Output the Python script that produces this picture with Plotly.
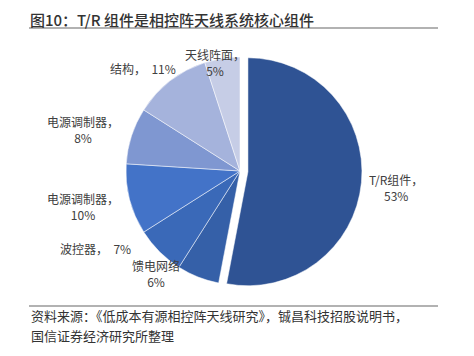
import plotly.graph_objects as go

# browser window 474x356; page body has an 8px margin, so the figure is 458x340
WIN_W, WIN_H, OFF = 474, 356, 8
W, H = WIN_W - 2 * OFF, WIN_H - 2 * OFF

categories = ["T/R组件", "馈电网络", "波控器", "电源调制器", "电源调制器", "结构", "天线阵面"]
values = [53, 6, 7, 10, 8, 11, 5]
colors = ["#2F5394", "#3560A8", "#3A69B8", "#4373C8", "#7F97D1", "#A5B3DC", "#C6CDE6"]
pulls = [0.07, 0, 0, 0, 0, 0, 0]
label_texts = ["T/R组件，<br>53%", "馈电网络<br>6%", "波控器，  7%", "电源调制器，<br>10%",
               "电源调制器，<br>8%", "结构，  11%", "天线阵面，<br>5%"]
# label centre positions in window pixels (x, y from top)
label_pos = [(396, 187), (156, 273), (95, 248), (83, 206), (83, 129), (143, 68), (215, 62)]

title = "图10：T/R 组件是相控阵天线系统核心组件"
source_lines = ["资料来源：《低成本有源相控阵天线研究》，铖昌科技招股说明书，", "国信证券经济研究所整理"]
source_y = [315, 335]

font = "Noto Sans CJK SC"


def px(x):
    return (x - OFF) / W


def py(y):
    return 1 - (y - OFF) / H


# pie geometry (window pixels)
cx, cy, r = 240, 171, 114
half = r * (1 + max(pulls))

fig = go.Figure(go.Pie(
    labels=[f"{c}#{i}" for i, c in enumerate(categories)],
    values=values,
    sort=False,
    direction="clockwise",
    rotation=0,
    pull=pulls,
    marker=dict(colors=colors, line=dict(color="white", width=0.5)),
    textinfo="none",
    hoverinfo="label+percent",
    showlegend=False,
    domain=dict(x=[px(cx - half), px(cx + half)], y=[py(cy + half), py(cy - half)]),
))

annotations = []
for t, (lx, ly) in zip(label_texts, label_pos):
    annotations.append(dict(
        text=t, x=px(lx), y=py(ly), xref="paper", yref="paper",
        showarrow=False, xanchor="center", yanchor="middle", align="center",
        font=dict(family=font, size=12, color="#404040"),
    ))

annotations.append(dict(
    text=title, x=px(29), y=py(8), xref="paper", yref="paper", showarrow=False,
    xanchor="left", yanchor="top", borderpad=0,
    font=dict(family=font, size=15, color="#333333", weight=500),
))
for line, ly in zip(source_lines, source_y):
    annotations.append(dict(
        text=line, x=px(29), y=py(ly), xref="paper", yref="paper",
        showarrow=False, xanchor="left", yanchor="middle", align="left",
        font=dict(family=font, size=13, color="#333333"),
    ))

shapes = [
    dict(type="line", xref="paper", yref="paper", x0=px(29), x1=px(438), y0=py(28), y1=py(28),
         line=dict(color="#666666", width=1.2)),
    dict(type="line", xref="paper", yref="paper", x0=px(29), x1=px(438), y0=py(306), y1=py(306),
         line=dict(color="#666666", width=1.2)),
]

fig.update_layout(
    width=W, height=H,
    margin=dict(l=0, r=0, t=0, b=0),
    paper_bgcolor="white", plot_bgcolor="white",
    annotations=annotations, shapes=shapes,
    font=dict(family=font),
)

fig.write_html("out.html")
